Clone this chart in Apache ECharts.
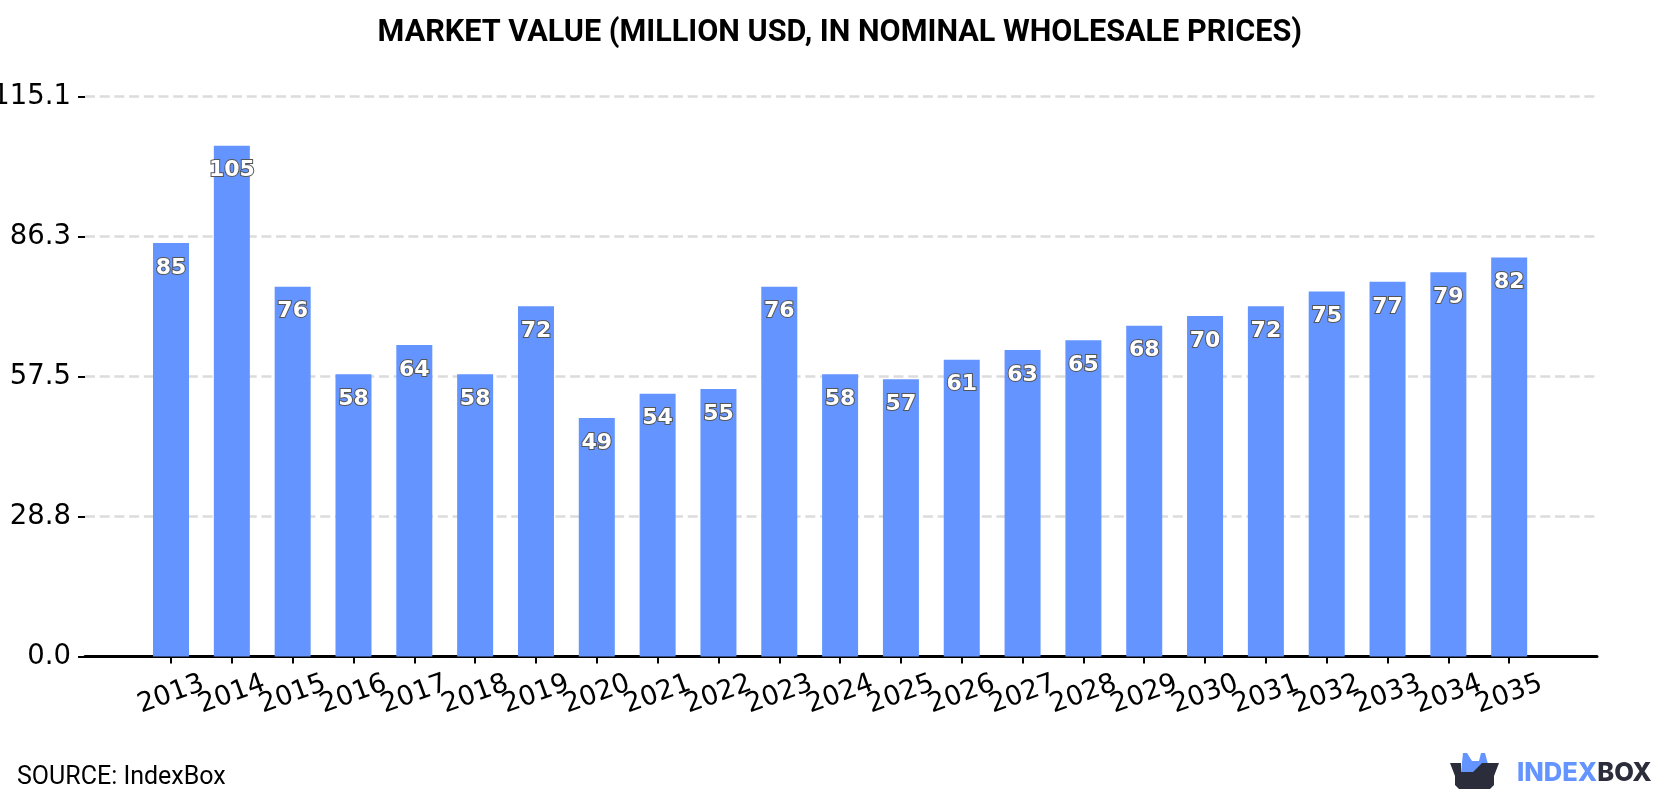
<!DOCTYPE html>
<html>
<head>
<meta charset="utf-8">
<style>html,body{margin:0;padding:0;background:#fff}#chart{width:1680px;height:800px}</style>
<script src="https://cdn.jsdelivr.net/npm/echarts@6/dist/echarts.min.js"></script>
</head>
<body>
<div id="chart"></div>
<script>
// Annual market value, history and forecast
const years = ['2013','2014','2015','2016','2017','2018','2019','2020','2021','2022','2023','2024','2025','2026','2027','2028','2029','2030','2031','2032','2033','2034','2035'];
const marketValue = [85,105,76,58,64,58,72,49,54,55,76,58,57,61,63,65,68,70,72,75,77,79,82];
const valueTicks = [0, 28.775, 57.55, 86.325, 115.1];
const valueTickLabels = ['0.0', '28.8', '57.5', '86.3', '115.1'];
const valueMax = 115.1;

const BLUE = '#6394ff';
const DARK = '#2b2d3a';
const chart = echarts.init(document.getElementById('chart'), null, {renderer: 'canvas'});

chart.setOption({
  animation: false,
  backgroundColor: '#fff',
  title: {
    text: 'MARKET VALUE (MILLION USD, IN NOMINAL WHOLESALE PRICES)',
    left: 834.8, top: 13, textAlign: 'center',
    textStyle: {fontFamily: 'Roboto', fontWeight: 'bold', fontSize: 30.6, color: '#000'}
  },
  // Outer grid carries the value scale, gridlines and baseline; inner grid carries the bars
  grid: [
    {left: 85, right: 83, top: 96.5, bottom: 143.5, outerBoundsMode: 'none'},
    {left: 140.6, right: 140.4, top: 96.5, bottom: 143.5, outerBoundsMode: 'none'}
  ],
  xAxis: [
    {
      gridIndex: 0, type: 'value', min: 0, max: 1,
      splitLine: {show: false}, axisTick: {show: false}, axisLabel: {show: false},
      axisLine: {show: true, onZero: false, lineStyle: {color: '#000', width: 3}}
    },
    {
      gridIndex: 1, type: 'category', data: years,
      axisLine: {show: false},
      axisTick: {show: true, alignWithLabel: true, length: 7, lineStyle: {color: '#000', width: 2}},
      axisLabel: {
        interval: 0, hideOverlap: false,
        rotate: 20, align: 'center', verticalAlign: 'middle', margin: 38,
        fontFamily: 'DejaVu Sans', fontSize: 27, color: '#000'
      }
    }
  ],
  yAxis: [
    {
      gridIndex: 0, type: 'value', min: 0, max: valueMax,
      axisLine: {show: false},
      axisTick: {show: true, customValues: valueTicks, length: 7, lineStyle: {color: '#000', width: 2}},
      axisLabel: {
        customValues: valueTicks,
        margin: 14, padding: [8, 0, 0, 0],
        fontFamily: 'DejaVu Sans', fontSize: 27.5, color: '#000',
        formatter: v => valueTickLabels[valueTicks.indexOf(v)]
      },
      splitLine: {show: true, lineStyle: {color: '#dcdcdc', width: 2.5, type: [10, 4.7]}},
      interval: 28.775
    },
    {
      gridIndex: 1, type: 'value', min: 0, max: valueMax,
      axisLine: {show: false}, axisTick: {show: false}, axisLabel: {show: false}, splitLine: {show: false}
    }
  ],
  series: [{
    type: 'bar',
    xAxisIndex: 1,
    yAxisIndex: 1,
    data: marketValue,
    barWidth: 36,
    itemStyle: {color: BLUE},
    label: {
      show: true, position: 'insideTop', distance: 14,
      fontFamily: 'DejaVu Sans', fontWeight: 'bold', fontSize: 22, color: '#fff',
      textBorderColor: '#555', textBorderWidth: 2
    }
  }],
  graphic: [
    {type: 'text', left: 17, top: 765,
     style: {text: 'SOURCE: IndexBox', fontFamily: 'Roboto', fontSize: 25, fill: '#000'}},
    // Brand mark: box with two ears
    {type: 'polygon', shape: {points: [[1461,772],[1463,753],[1467,753],[1472,761],[1479,761],[1481,753],[1485,753],[1488,764],[1482,764],[1473,773]]},
     style: {fill: BLUE}},
    {type: 'polygon', shape: {points: [[1450,763],[1461,763],[1461,772],[1473,772],[1482,763],[1499,763],[1494,776],[1494,785],[1490,789],[1459,789],[1455,785],[1455,776]]},
     style: {fill: DARK}},
    {type: 'text', left: 1517, top: 760,
     style: {
       text: '{a|INDEX}{b|BOX}',
       rich: {
         a: {fontFamily: 'Inter', fontWeight: 800, fontSize: 25.5, fill: BLUE},
         b: {fontFamily: 'Inter', fontWeight: 800, fontSize: 25.5, fill: DARK}
       }
     }}
  ]
});
</script>
</body>
</html>
